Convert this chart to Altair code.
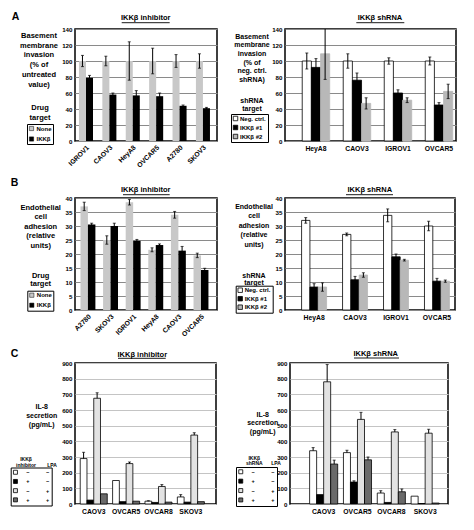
import altair as alt
import pandas as pd

FONT = "Liberation Sans"

# ---------------- Panel A : basement membrane invasion ----------------
a_inh_cells = ["IGROV1", "CAOV3", "HeyA8", "OVCAR5", "A2780", "SKOV3"]
a_inh_series = ["None", "IKKβ"]
a_inh_none = [100, 100, 100, 100, 100, 100]
a_inh_none_err = [7, 6, 24, 16, 8, 9]
a_inh_ikk = [79, 58, 57, 56, 44, 41]
a_inh_ikk_err = [3, 2, 6, 4, 1, 1]

a_sh_cells = ["HeyA8", "CAOV3", "IGROV1", "OVCAR5"]
sh_series = ["Neg. ctrl.", "IKKβ #1", "IKKβ #2"]
a_sh_neg = [100, 100, 100, 100]
a_sh_neg_err = [10, 9, 4, 5]
a_sh_1 = [92, 76, 60, 45]
a_sh_1_err = [11, 9, 4, 3]
a_sh_2 = [109, 47, 51, 62]
a_sh_2_err = [32, 7, 3, 9]

# ---------------- Panel B : endothelial cell adhesion ----------------
b_inh_cells = ["A2780", "SKOV3", "IGROV1", "HeyA8", "CAOV3", "OVCAR5"]
b_inh_none = [37, 25, 38.5, 21.5, 34, 19.5]
b_inh_none_err = [1.5, 1.5, 1, 0.7, 1.2, 0.8]
b_inh_ikk = [30.5, 30, 24.7, 23.2, 21.2, 14.3]
b_inh_ikk_err = [0.5, 1, 0.5, 0.4, 1.5, 0.6]

b_sh_cells = ["HeyA8", "CAOV3", "IGROV1", "OVCAR5"]
b_sh_neg = [32, 27, 33.8, 30]
b_sh_neg_err = [1, 0.5, 2.3, 1.7]
b_sh_1 = [8.2, 10.8, 19, 10.3]
b_sh_1_err = [1.2, 1.2, 1, 1]
b_sh_2 = [8.2, 12.5, 17.8, 10.3]
b_sh_2_err = [1.5, 0.8, 0.3, 0.4]

# ---------------- Panel C : IL-8 secretion ----------------
c_cells = ["CAOV3", "OVCAR5", "OVCAR8", "SKOV3"]
c_first_sign = ["−", "+", "−", "+"]   # IKKβ inhibitor / shRNA
c_lpa_sign = ["−", "−", "+", "+"]     # LPA
c_series = [f"{a}\u2003\u2003\u2003{b}" for a, b in zip(c_first_sign, c_lpa_sign)]

c_inh_ctrl = [290, 150, 18, 45]
c_inh_ctrl_err = [40, 0, 3, 15]
c_inh_inh = [25, 15, 10, 12]
c_inh_inh_err = [0, 0, 0, 0]
c_inh_lpa = [675, 258, 112, 440]
c_inh_lpa_err = [35, 10, 12, 15]
c_inh_both = [65, 18, 12, 15]
c_inh_both_err = [0, 0, 0, 0]

c_sh_ctrl = [340, 328, 70, 50]
c_sh_ctrl_err = [20, 15, 15, 0]
c_sh_sh = [60, 140, 10, 3]
c_sh_sh_err = [0, 8, 0, 0]
c_sh_lpa = [780, 540, 460, 452]
c_sh_lpa_err = [110, 45, 15, 25]
c_sh_both = [255, 282, 78, 6]
c_sh_both_err = [25, 18, 18, 0]


def long_df(cells, series, vals, errs, two_sided=True):
    rows = []
    for s, vs, es in zip(series, vals, errs):
        for c, v, e in zip(cells, vs, es):
            rows.append(dict(cell=c, series=s, value=v, err=e,
                             lo=(v - e) if two_sided else v, hi=v + e))
    return pd.DataFrame(rows)


def note(text, x, y, size=7.5, align="center", weight="bold", baseline="alphabetic", lh=None):
    kw = dict(align=align, baseline=baseline, fontSize=size, font=FONT,
              fontWeight=weight, color="black")
    if "\n" in text:
        kw["lineBreak"] = "\n"
        kw["lineHeight"] = lh
    return alt.Chart(pd.DataFrame({"t": [text]})).mark_text(**kw).encode(
        text="t:N", x=alt.value(x), y=alt.value(y))


def underline(x1, x2, y):
    return alt.Chart(pd.DataFrame({"t": [0]})).mark_rule(color="black", strokeWidth=0.9).encode(
        x=alt.value(x1), x2=alt.value(x2), y=alt.value(y))


def panel(df, cells, series, colors, W, H, ymax, yvals, grid_color, angle,
          pi, po, al, leg, stroke, two_sided, extras):
    x_axis = alt.Axis(labelAngle=angle, labelAlign="right" if angle else "center",
                      labelBaseline="top", ticks=False, domain=False, labelFont=FONT,
                      labelFontSize=6.8, labelFontWeight="bold", labelColor="black",
                      labelPadding=3 if angle else 4)
    x_enc = alt.X("cell:N", sort=cells, title=None, axis=x_axis,
                  scale=alt.Scale(paddingInner=pi, paddingOuter=po, align=al))
    xo_enc = alt.XOffset("series:N", sort=series,
                         scale=alt.Scale(domain=series, paddingInner=0, paddingOuter=0))

    def yenc(f):
        return alt.Y(f"{f}:Q", title=None,
                     scale=alt.Scale(domain=[0, ymax], nice=False),
                     axis=alt.Axis(values=yvals, grid=True, gridColor=grid_color, gridWidth=1,
                                   ticks=False, domain=False, labelFont=FONT, labelFontSize=6.2,
                                   labelFontWeight="bold", labelColor="black", labelPadding=3))

    legend = alt.Legend(orient="none", legendX=leg["x"], legendY=leg["y"], title=None,
                        direction="vertical", strokeColor="black", padding=leg["pad"],
                        fillColor="white", symbolType="square", symbolSize=leg["sym"],
                        labelFont=FONT, labelFontSize=leg["fs"], labelFontWeight="bold",
                        labelColor="black",
                        labelOffset=leg["off"], rowPadding=leg["rp"],
                        symbolStrokeColor="black", symbolStrokeWidth=leg["sw"])
    color = alt.Color("series:N", sort=series, scale=alt.Scale(domain=series, range=colors),
                      legend=legend)
    bar_enc = dict(x=x_enc, xOffset=xo_enc, y=yenc("value"), color=color)
    if stroke == "sh":
        bar_enc["stroke"] = alt.condition("datum.series == 'IKKβ #2'",
                                          alt.value(colors[2]), alt.value("black"))
        bars = alt.Chart(df).mark_bar(strokeWidth=0.8, opacity=1).encode(**bar_enc)
    elif stroke == "all":
        bars = alt.Chart(df).mark_bar(stroke="black", strokeWidth=0.8, opacity=1).encode(**bar_enc)
    else:
        bars = alt.Chart(df).mark_bar(opacity=1).encode(**bar_enc)

    edf = df[df["err"] > 0]
    rule = alt.Chart(edf).mark_rule(color="black", strokeWidth=1, clip=True).encode(
        x=x_enc, xOffset=xo_enc, y=yenc("lo"), y2="hi:Q")
    cap_hi = alt.Chart(edf).mark_tick(color="black", orient="horizontal", size=3,
                                      thickness=1, clip=True).encode(
        x=x_enc, xOffset=xo_enc, y=yenc("hi"))
    layers = [bars, rule, cap_hi]
    if two_sided:
        cap_lo = alt.Chart(edf).mark_tick(color="black", orient="horizontal", size=3,
                                          thickness=1).encode(
            x=x_enc, xOffset=xo_enc, y=yenc("lo"))
        layers.append(cap_lo)
    layers += extras
    return alt.layer(*layers).properties(width=W, height=H)


INH_COLORS = ["#c8c8c8", "#000000"]
SH_COLORS = ["#ffffff", "#000000", "#b8b8b8"]
C_COLORS = ["#ffffff", "#000000", "#e2e2e2", "#6a6a6a"]
GRID_AB = "#8a8a8a"
GRID_C = "#c4c4c4"

# ---- A left
dfa1 = long_df(a_inh_cells, a_inh_series, [a_inh_none, a_inh_ikk], [a_inh_none_err, a_inh_ikk_err])
pa1 = panel(dfa1, a_inh_cells, a_inh_series, INH_COLORS, 142, 112, 140, list(range(0, 141, 20)),
            GRID_AB, -45, 0.4, 0.235, 0.36,
            dict(x=-48, y=95, pad=1.5, sym=18, fs=6, off=2, rp=2.5, sw=0.5), None, True,
            [note("A", -63.3, -9, size=10.5, align="left"),
             note("IKKβ inhibitor", 70.7, -11, size=7.5, baseline="middle"),
             underline(46.7, 94.7, -6.3),
             note("Basement\nmembrane\ninvasion\n(% of\nuntreated\nvalue)", -36, 8.8, size=7.5, lh=9.8),
             note("Drug\ntarget", -35, 80.8, size=7.5, lh=10)])

# ---- A right
dfa2 = long_df(a_sh_cells, sh_series, [a_sh_neg, a_sh_1, a_sh_2], [a_sh_neg_err, a_sh_1_err, a_sh_2_err])
pa2 = panel(dfa2, a_sh_cells, sh_series, SH_COLORS, 171, 112, 140, list(range(0, 141, 20)),
            GRID_AB, 0, 0.33, 0.25, 0.84,
            dict(x=-54, y=85, pad=1.5, sym=20, fs=6, off=1.5, rp=1, sw=0.8), "sh", True,
            [note("IKKβ shRNA", 95, -10.7, size=7.5, baseline="middle"),
             underline(71.3, 119.3, -6.3),
             note("Basement\nmembrane\ninvasion\n(% of\nneg. ctrl.\nshRNA)", -33, 9.7, size=7, lh=8.7),
             note("shRNA\ntarget", -33, 73.5, size=7, lh=8.3)])

# ---- B left
dfb1 = long_df(b_inh_cells, a_inh_series, [b_inh_none, b_inh_ikk], [b_inh_none_err, b_inh_ikk_err])
pb1 = panel(dfb1, b_inh_cells, a_inh_series, INH_COLORS, 142, 112, 40, list(range(0, 41, 5)),
            GRID_AB, -45, 0.34, 0.31, 0.39,
            dict(x=-47.7, y=92.7, pad=1.5, sym=18, fs=6, off=2, rp=2, sw=0.5), None, True,
            [note("B", -64.3, -12.3, size=10.5, align="left"),
             note("IKKβ inhibitor", 70.7, -8.3, size=7.5, baseline="middle"),
             underline(48, 94.7, -3.3),
             note("Endothelial\ncell\nadhesion\n(relative\nunits)", -34.3, 12, size=7.5, lh=9.4),
             note("Drug\ntarget", -34.3, 79.7, size=7.5, lh=8)])

# ---- B right
dfb2 = long_df(b_sh_cells, sh_series, [b_sh_neg, b_sh_1, b_sh_2], [b_sh_neg_err, b_sh_1_err, b_sh_2_err])
pb2 = panel(dfb2, b_sh_cells, sh_series, SH_COLORS, 170, 112, 40, list(range(0, 41, 5)),
            GRID_AB, 0, 0.39, 0.27, 0.75,
            dict(x=-49.3, y=87.7, pad=1.5, sym=20, fs=6, off=1.5, rp=0.5, sw=0.8), "sh", True,
            [note("IKKβ shRNA", 84.8, -8.3, size=7.5, baseline="middle"),
             underline(61, 108, -3.3),
             note("Endothelial\ncell\nadhesion\n(relative\nunits)", -31, 11, size=7, lh=9.4),
             note("shRNA\ntarget", -31, 79.7, size=7, lh=7.5)])

# ---- C left
dfc1 = long_df(c_cells, c_series, [c_inh_ctrl, c_inh_inh, c_inh_lpa, c_inh_both],
               [c_inh_ctrl_err, c_inh_inh_err, c_inh_lpa_err, c_inh_both_err], two_sided=False)
pc1 = panel(dfc1, c_cells, c_series, C_COLORS, 141, 141, 900, list(range(0, 901, 100)),
            GRID_C, 0, 0.165, 0.26, 0.31,
            dict(x=-64.3, y=104.5, pad=2, sym=16, fs=5.5, off=8, rp=1.2, sw=0.8), "all", False,
            [note("C", -64.3, -6.3, size=10.5, align="left"),
             note("IKKβ inhibitor", 67.3, -8, size=7.5, baseline="middle"),
             underline(43, 90.7, -4.7),
             note("IL-8\nsecretion\n(pg/mL)", -33.3, 45.5, size=7, lh=9.2),
             note("IKKβ\ninhibitor", -49, 97.7, size=5, lh=6),
             note("LPA", -23, 103.7, size=5)])

# ---- C right
dfc2 = long_df(c_cells, c_series, [c_sh_ctrl, c_sh_sh, c_sh_lpa, c_sh_both],
               [c_sh_ctrl_err, c_sh_sh_err, c_sh_lpa_err, c_sh_both_err], two_sided=False)
pc2 = panel(dfc2, c_cells, c_series, C_COLORS, 158, 141, 900, list(range(0, 901, 100)),
            GRID_C, 0, 0.17, 0.42, 0.69,
            dict(x=-54, y=104, pad=2, sym=16, fs=5.5, off=8, rp=1.4, sw=0.8), "all", False,
            [note("IKKβ shRNA", 85.7, -9, size=7.5, baseline="middle"),
             underline(64, 109, -5),
             note("IL-8\nsecretion\n(pg/mL)", -27.3, 53.5, size=7, lh=8.8),
             note("IKKβ\nshRNA", -35.7, 96.5, size=5, lh=5.7),
             note("LPA", -14, 102.2, size=5)])

RES = dict(color="independent", xOffset="independent", x="independent", y="independent")

rowA = alt.hconcat(pa1, pa2, spacing=68, bounds="flush").resolve_scale(**RES).resolve_legend(color="independent")
rowB = alt.hconcat(pb1, pb2, spacing=68, bounds="flush").resolve_scale(**RES).resolve_legend(color="independent")
rowC = alt.hconcat(pc1, pc2, spacing=74, bounds="flush").resolve_scale(**RES).resolve_legend(color="independent")

topAB = alt.vconcat(rowA, rowB, spacing=6).resolve_scale(**RES).resolve_legend(color="independent")
chart = alt.vconcat(topAB, rowC, spacing=8).resolve_scale(**RES).resolve_legend(
    color="independent").properties(
    padding={"left": 1, "top": 3, "right": 2, "bottom": 2}, background="white"
).configure_view(stroke="black", strokeWidth=1.5)

chart.save("out.html", embed_options={"renderer": "svg", "actions": False})
